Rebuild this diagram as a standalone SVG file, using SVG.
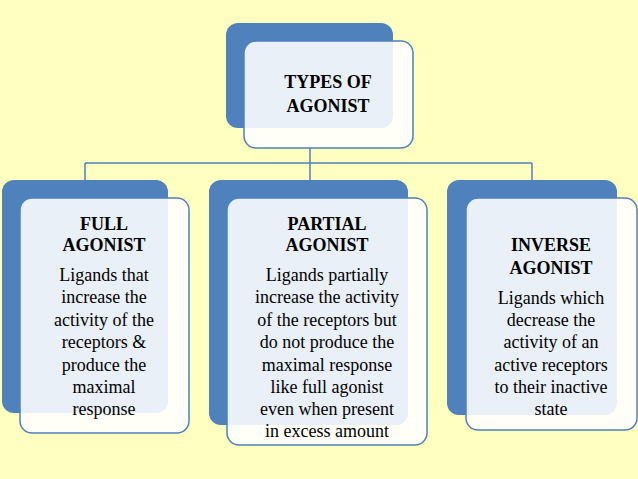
<svg xmlns="http://www.w3.org/2000/svg" width="638" height="479" viewBox="0 0 638 479">
<style>
.b{fill:#4f81bd}
.w{fill:#fff;fill-opacity:0.88;stroke:#4f81bd;stroke-width:1.5}
text{font-family:"Liberation Serif","DejaVu Serif","Times New Roman",serif;font-size:18px;text-anchor:middle;fill:#000}
.h{font-weight:bold}
</style>
<rect width="638" height="479" fill="#ffffc0"/>
<g id="connectors" fill="none" stroke="#4f81bd" stroke-width="1.5">
<path d="M310 148V163M85 163H532M85 163V180M310 163V180M532 163V180"/>
</g>
<g id="root">
<rect class="b" x="226" y="23" width="167" height="105" rx="12"/>
<rect class="w" x="244" y="41" width="169" height="107" rx="12"/>
<text class="h" x="328" y="88">TYPES OF</text>
<text class="h" x="328" y="112">AGONIST</text>
</g>
<g id="full">
<rect class="b" x="2" y="180" width="166" height="233" rx="12"/>
<rect class="w" x="20" y="198" width="169" height="235" rx="12"/>
<text class="h" x="104" y="230">FULL</text>
<text class="h" x="104" y="251">AGONIST</text>
<text x="104" y="281">Ligands that</text>
<text x="104" y="303">increase the</text>
<text x="104" y="326">activity of the</text>
<text x="104" y="348">receptors &amp;</text>
<text x="104" y="371">produce the</text>
<text x="104" y="393">maximal</text>
<text x="104" y="415">response</text>
</g>
<g id="partial">
<rect class="b" x="209" y="180" width="199" height="245" rx="12"/>
<rect class="w" x="227" y="198" width="200" height="247" rx="12"/>
<text class="h" x="327" y="230">PARTIAL</text>
<text class="h" x="327" y="251">AGONIST</text>
<text x="327" y="281">Ligands partially</text>
<text x="327" y="303">increase the activity</text>
<text x="327" y="326">of the receptors but</text>
<text x="327" y="348">do not produce the</text>
<text x="327" y="371">maximal response</text>
<text x="327" y="393">like full agonist</text>
<text x="327" y="415">even when present</text>
<text x="327" y="437">in excess amount</text>
</g>
<g id="inverse">
<rect class="b" x="447" y="180" width="170" height="235" rx="12"/>
<rect class="w" x="466" y="198" width="171" height="232" rx="12"/>
<text class="h" x="551" y="251">INVERSE</text>
<text class="h" x="551" y="274">AGONIST</text>
<text x="551" y="304">Ligands which</text>
<text x="551" y="326">decrease the</text>
<text x="551" y="348">activity of an</text>
<text x="551" y="371">active receptors</text>
<text x="551" y="393">to their inactive</text>
<text x="551" y="415">state</text>
</g>
</svg>
